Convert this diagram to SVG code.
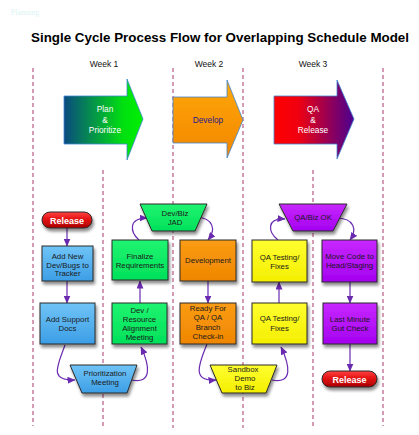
<svg xmlns="http://www.w3.org/2000/svg" width="419" height="435" viewBox="0 0 419 435">
<defs>
<style>
text{font-family:"Liberation Sans",Arial,sans-serif;text-anchor:middle}
.t{font-size:7.8px;fill:#1a1a1a}
.wk{font-size:8.5px;fill:#111}
.ar{font-size:8.3px;fill:#fff}
.rel{font-size:9px;font-weight:bold;fill:#fff}
.dash{stroke:#b04a78;stroke-width:1.1;stroke-dasharray:4 3;fill:none}
.box{stroke:#2a2a2a;stroke-width:1;filter:url(#sh)}
.arrow{stroke:#3f86d0;stroke-width:0.8}
.con{stroke:#6a2ab0;stroke-width:1.2;fill:none;marker-end:url(#ah)}
</style>
<filter id="sh" x="-20%" y="-20%" width="150%" height="160%">
<feDropShadow dx="1.5" dy="3" stdDeviation="1.8" flood-color="#000" flood-opacity="0.45"/>
</filter>
<marker id="ah" markerUnits="userSpaceOnUse" markerWidth="8" markerHeight="7" refX="7.5" refY="3.5" orient="auto">
<path d="M0,0 L8,3.5 L0,7 z" fill="#6a2ab0"/>
</marker>
<linearGradient id="gPlan" x1="0" y1="0" x2="1" y2="0"><stop offset="0" stop-color="#0a4a80"/><stop offset="0.75" stop-color="#00e010"/><stop offset="1" stop-color="#00f000"/></linearGradient>
<linearGradient id="gDev" x1="0" y1="0" x2="0" y2="1"><stop offset="0" stop-color="#ffa808"/><stop offset="1" stop-color="#f28600"/></linearGradient>
<linearGradient id="gQA" x1="0" y1="0" x2="1" y2="0"><stop offset="0" stop-color="#ff0000"/><stop offset="0.3" stop-color="#f00010"/><stop offset="1" stop-color="#4a0090"/></linearGradient>
<linearGradient id="gB" x1="0" y1="0" x2="0" y2="1"><stop offset="0" stop-color="#70c4f6"/><stop offset="1" stop-color="#3c9ee6"/></linearGradient>
<linearGradient id="gG" x1="0" y1="0" x2="0" y2="1"><stop offset="0" stop-color="#20f470"/><stop offset="1" stop-color="#00e05a"/></linearGradient>
<linearGradient id="gO" x1="0" y1="0" x2="0" y2="1"><stop offset="0" stop-color="#fb9c14"/><stop offset="1" stop-color="#ef8600"/></linearGradient>
<linearGradient id="gY" x1="0" y1="0" x2="0" y2="1"><stop offset="0" stop-color="#ffff30"/><stop offset="1" stop-color="#f4ee00"/></linearGradient>
<linearGradient id="gP" x1="0" y1="0" x2="0" y2="1"><stop offset="0" stop-color="#c828ff"/><stop offset="1" stop-color="#a400f0"/></linearGradient>
<linearGradient id="gR" x1="0" y1="0" x2="0" y2="1"><stop offset="0" stop-color="#ff4040"/><stop offset="0.5" stop-color="#e01010"/><stop offset="1" stop-color="#a80000"/></linearGradient>
</defs>
<rect width="419" height="435" fill="#fff"/>
<text x="25" y="15" style="font-family:'Liberation Serif',serif;font-size:8px;fill:#dcf4f4">Planning</text>
<text x="220" y="42" style="font-size:13.4px;font-weight:bold;fill:#000" textLength="378" lengthAdjust="spacingAndGlyphs">Single Cycle Process Flow for Overlapping Schedule Model</text>
<g id="weeks">
<text class="wk" x="104" y="67">Week 1</text>
<text class="wk" x="209" y="67">Week 2</text>
<text class="wk" x="313" y="67">Week 3</text>
</g>
<g id="gridlines">
<line class="dash" x1="33" y1="68" x2="33" y2="426"/>
<line class="dash" x1="173" y1="68" x2="173" y2="428"/>
<line class="dash" x1="243" y1="68" x2="243" y2="428"/>
<line class="dash" x1="383" y1="68" x2="383" y2="426"/>
<line class="dash" x1="103" y1="170" x2="103" y2="428"/>
<line class="dash" x1="313" y1="170" x2="313" y2="428"/>
</g>
<g id="arrow-plan">
<path class="arrow" d="M64,96 H127 V79 L143,119 L127,160 V144 H64 Z" fill="url(#gPlan)"/>
<text class="ar" x="105" y="112">Plan</text>
<text class="ar" x="105" y="123">&amp;</text>
<text class="ar" x="105" y="133">Prioritize</text>
</g>
<g id="arrow-develop">
<path class="arrow" d="M173,97 H227 V80 L243,120 L227,158 V143 H173 Z" fill="url(#gDev)"/>
<text x="208" y="123" style="font-size:8.3px;fill:#2a1a8a">Develop</text>
</g>
<g id="arrow-qa">
<path class="arrow" d="M274,96 H337 V80 L354,119 L337,159 V144 H274 Z" fill="url(#gQA)"/>
<text class="ar" x="313" y="112">QA</text>
<text class="ar" x="313" y="123">&amp;</text>
<text class="ar" x="313" y="133">Release</text>
</g>
<g id="connectors">
<line class="con" x1="67" y1="228" x2="67" y2="246"/>
<line class="con" x1="67" y1="281" x2="67" y2="303"/>
<path class="con" d="M65,345 C58,365 48,381 75,380"/>
<path class="con" d="M132,380 C152,384 150,366 141,347"/>
<line class="con" x1="140" y1="303" x2="140" y2="281"/>
<path class="con" d="M139,240 C130,232 128,218 147,218"/>
<path class="con" d="M196,217 C214,218 216,230 208,240"/>
<line class="con" x1="208" y1="281" x2="208" y2="303"/>
<path class="con" d="M207,344 C200,362 190,382 216,380"/>
<path class="con" d="M272,380 C293,384 290,366 281,347"/>
<line class="con" x1="279" y1="303" x2="279" y2="282"/>
<path class="con" d="M278,240 C268,232 266,218 285,219"/>
<path class="con" d="M336,218 C355,218 357,230 350,240"/>
<line class="con" x1="350" y1="282" x2="350" y2="303"/>
<line class="con" x1="350" y1="344" x2="350" y2="371"/>
</g>
<g id="release-start">
<rect class="box" x="42" y="212" width="50" height="16" rx="8" fill="url(#gR)"/>
<text class="rel" x="67" y="223.5">Release</text>
</g>
<g id="add-new">
<rect class="box" x="42" y="246" width="51" height="35" fill="url(#gB)"/>
<text class="t" x="67.5" y="259">Add New</text>
<text class="t" x="67.5" y="267.5">Dev/Bugs to</text>
<text class="t" x="67.5" y="276">Tracker</text>
</g>
<g id="add-support">
<rect class="box" x="40" y="303" width="55" height="41" fill="url(#gB)"/>
<text class="t" x="67.5" y="322">Add Support</text>
<text class="t" x="67.5" y="331">Docs</text>
</g>
<g id="prioritization">
<path class="box" d="M70,365 H137 L127,393 H82 Z" fill="url(#gB)"/>
<text class="t" x="105" y="376">Prioritization</text>
<text class="t" x="105" y="385">Meeting</text>
</g>
<g id="dev-resource">
<rect class="box" x="112" y="303" width="55" height="41" fill="url(#gG)"/>
<text class="t" x="139.5" y="313">Dev /</text>
<text class="t" x="139.5" y="322">Resource</text>
<text class="t" x="139.5" y="331">Alignment</text>
<text class="t" x="139.5" y="340">Meeting</text>
</g>
<g id="finalize">
<rect class="box" x="112" y="240" width="56" height="40" fill="url(#gG)"/>
<text class="t" x="140" y="259">Finalize</text>
<text class="t" x="140" y="268">Requirements</text>
</g>
<g id="dev-biz-jad">
<path class="box" d="M140,204 H207 L195,231 H152 Z" fill="url(#gG)"/>
<text class="t" x="175" y="216">Dev/Biz</text>
<text class="t" x="175" y="225">JAD</text>
</g>
<g id="development">
<rect class="box" x="180" y="240" width="56" height="41" fill="url(#gO)"/>
<text class="t" x="208" y="263">Development</text>
</g>
<g id="ready-for-qa">
<rect class="box" x="180" y="303" width="56" height="41" fill="url(#gO)"/>
<text class="t" x="208" y="311">Ready For</text>
<text class="t" x="208" y="320">QA / QA</text>
<text class="t" x="208" y="329.5">Branch</text>
<text class="t" x="208" y="339">Check-in</text>
</g>
<g id="sandbox-demo">
<path class="box" d="M210,365 H277 L266,393 H222 Z" fill="url(#gY)"/>
<text class="t" x="243" y="372">Sandbox</text>
<text class="t" x="245" y="381">Demo</text>
<text class="t" x="245" y="390">to Biz</text>
</g>
<g id="qa-testing-lower">
<rect class="box" x="252" y="303" width="55" height="41" fill="url(#gY)"/>
<text class="t" x="279.5" y="321">QA Testing/</text>
<text class="t" x="279.5" y="331">Fixes</text>
</g>
<g id="qa-testing-upper">
<rect class="box" x="252" y="240" width="55" height="42" fill="url(#gY)"/>
<text class="t" x="279.5" y="260">QA Testing/</text>
<text class="t" x="279.5" y="269">Fixes</text>
</g>
<g id="qa-biz-ok">
<path class="box" d="M279,204 H347 L333,231 H293 Z" fill="url(#gP)"/>
<text class="t" x="313" y="220">QA/Biz OK</text>
</g>
<g id="move-code">
<rect class="box" x="322" y="240" width="55" height="42" fill="url(#gP)"/>
<text class="t" x="349.5" y="259">Move Code to</text>
<text class="t" x="349.5" y="268">Head/Staging</text>
</g>
<g id="last-minute">
<rect class="box" x="323" y="303" width="54" height="41" fill="url(#gP)"/>
<text class="t" x="350" y="322">Last Minute</text>
<text class="t" x="350" y="331">Gut Check</text>
</g>
<g id="release-end">
<rect class="box" x="322" y="371" width="55" height="16" rx="8" fill="url(#gR)"/>
<text class="rel" x="349.5" y="382.5">Release</text>
</g>
</svg>
